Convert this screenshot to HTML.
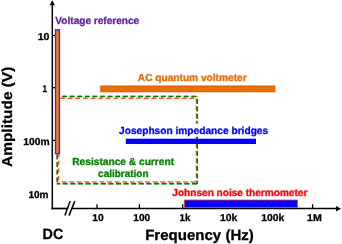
<!DOCTYPE html>
<html><head><meta charset="utf-8">
<style>
html,body{margin:0;padding:0;background:#fff;}
body{width:342px;height:244px;overflow:hidden;}
svg{display:block;}
text{font-family:"Liberation Sans",Arial,sans-serif;font-weight:bold;text-rendering:geometricPrecision;}
</style></head>
<body>
<svg width="342" height="244" viewBox="0 0 342 244">
<rect x="0" y="0" width="342" height="244" fill="#fff"/>
<rect x="60.30" y="97.60" width="4.50" height="1.4" fill="#FF5500"/>
<rect x="67.90" y="97.60" width="4.50" height="1.4" fill="#FF5500"/>
<rect x="75.50" y="97.60" width="4.50" height="1.4" fill="#FF5500"/>
<rect x="83.10" y="97.60" width="4.50" height="1.4" fill="#FF5500"/>
<rect x="90.70" y="97.60" width="4.50" height="1.4" fill="#FF5500"/>
<rect x="98.30" y="97.60" width="4.50" height="1.4" fill="#FF5500"/>
<rect x="105.90" y="97.60" width="4.50" height="1.4" fill="#FF5500"/>
<rect x="113.50" y="97.60" width="4.50" height="1.4" fill="#FF5500"/>
<rect x="121.10" y="97.60" width="4.50" height="1.4" fill="#FF5500"/>
<rect x="128.70" y="97.60" width="4.50" height="1.4" fill="#FF5500"/>
<rect x="136.30" y="97.60" width="4.50" height="1.4" fill="#FF5500"/>
<rect x="143.90" y="97.60" width="4.50" height="1.4" fill="#FF5500"/>
<rect x="151.50" y="97.60" width="4.50" height="1.4" fill="#FF5500"/>
<rect x="159.10" y="97.60" width="4.50" height="1.4" fill="#FF5500"/>
<rect x="166.70" y="97.60" width="4.50" height="1.4" fill="#FF5500"/>
<rect x="174.30" y="97.60" width="4.50" height="1.4" fill="#FF5500"/>
<rect x="181.90" y="97.60" width="4.50" height="1.4" fill="#FF5500"/>
<rect x="189.50" y="97.60" width="4.50" height="1.4" fill="#FF5500"/>
<rect x="195.70" y="98.20" width="1.0" height="4.40" fill="#FF5500"/>
<rect x="195.70" y="105.65" width="1.0" height="4.40" fill="#FF5500"/>
<rect x="195.70" y="113.10" width="1.0" height="4.40" fill="#FF5500"/>
<rect x="195.70" y="120.55" width="1.0" height="4.40" fill="#FF5500"/>
<rect x="195.70" y="128.00" width="1.0" height="4.40" fill="#FF5500"/>
<rect x="195.70" y="135.45" width="1.0" height="4.40" fill="#FF5500"/>
<rect x="195.70" y="142.90" width="1.0" height="4.40" fill="#FF5500"/>
<rect x="195.70" y="150.35" width="1.0" height="4.40" fill="#FF5500"/>
<rect x="195.70" y="157.80" width="1.0" height="4.40" fill="#FF5500"/>
<rect x="195.70" y="165.25" width="1.0" height="4.40" fill="#FF5500"/>
<rect x="195.70" y="172.70" width="1.0" height="4.40" fill="#FF5500"/>
<rect x="195.70" y="180.15" width="1.0" height="2.05" fill="#FF5500"/>
<rect x="58.10" y="181.30" width="0.50" height="1.3" fill="#FF5500"/>
<rect x="61.50" y="181.30" width="4.70" height="1.3" fill="#FF5500"/>
<rect x="69.10" y="181.30" width="4.70" height="1.3" fill="#FF5500"/>
<rect x="76.70" y="181.30" width="4.70" height="1.3" fill="#FF5500"/>
<rect x="84.30" y="181.30" width="4.70" height="1.3" fill="#FF5500"/>
<rect x="91.90" y="181.30" width="4.70" height="1.3" fill="#FF5500"/>
<rect x="99.50" y="181.30" width="4.70" height="1.3" fill="#FF5500"/>
<rect x="107.10" y="181.30" width="4.70" height="1.3" fill="#FF5500"/>
<rect x="114.70" y="181.30" width="4.70" height="1.3" fill="#FF5500"/>
<rect x="122.30" y="181.30" width="4.70" height="1.3" fill="#FF5500"/>
<rect x="129.90" y="181.30" width="4.70" height="1.3" fill="#FF5500"/>
<rect x="137.50" y="181.30" width="4.70" height="1.3" fill="#FF5500"/>
<rect x="145.10" y="181.30" width="4.70" height="1.3" fill="#FF5500"/>
<rect x="152.70" y="181.30" width="4.70" height="1.3" fill="#FF5500"/>
<rect x="160.30" y="181.30" width="4.70" height="1.3" fill="#FF5500"/>
<rect x="167.90" y="181.30" width="4.70" height="1.3" fill="#FF5500"/>
<rect x="175.50" y="181.30" width="4.70" height="1.3" fill="#FF5500"/>
<rect x="183.10" y="181.30" width="4.70" height="1.3" fill="#FF5500"/>
<rect x="190.70" y="181.30" width="4.70" height="1.3" fill="#FF5500"/>
<rect x="58.10" y="99.80" width="1.2" height="4.60" fill="#FF5500"/>
<rect x="58.10" y="107.40" width="1.2" height="4.60" fill="#FF5500"/>
<rect x="58.10" y="115.00" width="1.2" height="4.60" fill="#FF5500"/>
<rect x="58.10" y="122.60" width="1.2" height="4.60" fill="#FF5500"/>
<rect x="58.10" y="130.20" width="1.2" height="4.60" fill="#FF5500"/>
<rect x="58.10" y="137.80" width="1.2" height="4.60" fill="#FF5500"/>
<rect x="58.10" y="145.40" width="1.2" height="4.60" fill="#FF5500"/>
<rect x="58.10" y="153.00" width="1.2" height="4.60" fill="#FF5500"/>
<rect x="58.10" y="160.60" width="1.2" height="4.60" fill="#FF5500"/>
<rect x="58.10" y="168.20" width="1.2" height="4.60" fill="#FF5500"/>
<rect x="58.10" y="175.80" width="1.2" height="4.60" fill="#FF5500"/>
<rect x="56.70" y="95.60" width="2.70" height="1.7" fill="#007A10"/>
<rect x="62.00" y="95.60" width="5.00" height="1.7" fill="#007A10"/>
<rect x="69.60" y="95.60" width="5.00" height="1.7" fill="#007A10"/>
<rect x="77.20" y="95.60" width="5.00" height="1.7" fill="#007A10"/>
<rect x="84.80" y="95.60" width="5.00" height="1.7" fill="#007A10"/>
<rect x="92.40" y="95.60" width="5.00" height="1.7" fill="#007A10"/>
<rect x="100.00" y="95.60" width="5.00" height="1.7" fill="#007A10"/>
<rect x="107.60" y="95.60" width="5.00" height="1.7" fill="#007A10"/>
<rect x="115.20" y="95.60" width="5.00" height="1.7" fill="#007A10"/>
<rect x="122.80" y="95.60" width="5.00" height="1.7" fill="#007A10"/>
<rect x="130.40" y="95.60" width="5.00" height="1.7" fill="#007A10"/>
<rect x="138.00" y="95.60" width="5.00" height="1.7" fill="#007A10"/>
<rect x="145.60" y="95.60" width="5.00" height="1.7" fill="#007A10"/>
<rect x="153.20" y="95.60" width="5.00" height="1.7" fill="#007A10"/>
<rect x="160.80" y="95.60" width="5.00" height="1.7" fill="#007A10"/>
<rect x="168.40" y="95.60" width="5.00" height="1.7" fill="#007A10"/>
<rect x="176.00" y="95.60" width="5.00" height="1.7" fill="#007A10"/>
<rect x="183.60" y="95.60" width="5.00" height="1.7" fill="#007A10"/>
<rect x="191.20" y="95.60" width="5.00" height="1.7" fill="#007A10"/>
<rect x="196.35" y="96.00" width="1.7" height="0.55" fill="#007A10"/>
<rect x="196.35" y="99.00" width="1.7" height="5.00" fill="#007A10"/>
<rect x="196.35" y="106.45" width="1.7" height="5.00" fill="#007A10"/>
<rect x="196.35" y="113.90" width="1.7" height="5.00" fill="#007A10"/>
<rect x="196.35" y="121.35" width="1.7" height="5.00" fill="#007A10"/>
<rect x="196.35" y="128.80" width="1.7" height="5.00" fill="#007A10"/>
<rect x="196.35" y="136.25" width="1.7" height="5.00" fill="#007A10"/>
<rect x="196.35" y="143.70" width="1.7" height="5.00" fill="#007A10"/>
<rect x="196.35" y="151.15" width="1.7" height="5.00" fill="#007A10"/>
<rect x="196.35" y="158.60" width="1.7" height="5.00" fill="#007A10"/>
<rect x="196.35" y="166.05" width="1.7" height="5.00" fill="#007A10"/>
<rect x="196.35" y="173.50" width="1.7" height="5.00" fill="#007A10"/>
<rect x="196.35" y="180.95" width="1.7" height="2.95" fill="#007A10"/>
<rect x="56.70" y="182.80" width="3.60" height="1.8" fill="#007A10"/>
<rect x="62.70" y="182.80" width="5.20" height="1.8" fill="#007A10"/>
<rect x="70.30" y="182.80" width="5.20" height="1.8" fill="#007A10"/>
<rect x="77.90" y="182.80" width="5.20" height="1.8" fill="#007A10"/>
<rect x="85.50" y="182.80" width="5.20" height="1.8" fill="#007A10"/>
<rect x="93.10" y="182.80" width="5.20" height="1.8" fill="#007A10"/>
<rect x="100.70" y="182.80" width="5.20" height="1.8" fill="#007A10"/>
<rect x="108.30" y="182.80" width="5.20" height="1.8" fill="#007A10"/>
<rect x="115.90" y="182.80" width="5.20" height="1.8" fill="#007A10"/>
<rect x="123.50" y="182.80" width="5.20" height="1.8" fill="#007A10"/>
<rect x="131.10" y="182.80" width="5.20" height="1.8" fill="#007A10"/>
<rect x="138.70" y="182.80" width="5.20" height="1.8" fill="#007A10"/>
<rect x="146.30" y="182.80" width="5.20" height="1.8" fill="#007A10"/>
<rect x="153.90" y="182.80" width="5.20" height="1.8" fill="#007A10"/>
<rect x="161.50" y="182.80" width="5.20" height="1.8" fill="#007A10"/>
<rect x="169.10" y="182.80" width="5.20" height="1.8" fill="#007A10"/>
<rect x="176.70" y="182.80" width="5.20" height="1.8" fill="#007A10"/>
<rect x="184.30" y="182.80" width="5.20" height="1.8" fill="#007A10"/>
<rect x="191.90" y="182.80" width="5.20" height="1.8" fill="#007A10"/>
<rect x="56.35" y="96.00" width="1.6" height="2.60" fill="#007A10"/>
<rect x="56.35" y="101.20" width="1.6" height="5.00" fill="#007A10"/>
<rect x="56.35" y="108.80" width="1.6" height="5.00" fill="#007A10"/>
<rect x="56.35" y="116.40" width="1.6" height="5.00" fill="#007A10"/>
<rect x="56.35" y="124.00" width="1.6" height="5.00" fill="#007A10"/>
<rect x="56.35" y="131.60" width="1.6" height="5.00" fill="#007A10"/>
<rect x="56.35" y="139.20" width="1.6" height="5.00" fill="#007A10"/>
<rect x="56.35" y="146.80" width="1.6" height="5.00" fill="#007A10"/>
<rect x="56.35" y="154.40" width="1.6" height="5.00" fill="#007A10"/>
<rect x="56.35" y="162.00" width="1.6" height="5.00" fill="#007A10"/>
<rect x="56.35" y="169.60" width="1.6" height="5.00" fill="#007A10"/>
<rect x="56.35" y="177.20" width="1.6" height="5.00" fill="#007A10"/>
<rect x="117" y="123.6" width="153" height="13.2" fill="#fff"/>
<g stroke="#000" fill="none">
<line x1="52.3" y1="4" x2="52.3" y2="209.3" stroke-width="1.5"/>
<line x1="51.55" y1="208.5" x2="67.5" y2="208.5" stroke-width="1.7"/>
<line x1="71.8" y1="208.5" x2="337" y2="208.5" stroke-width="1.7"/>
<line x1="64.9" y1="215.6" x2="70.2" y2="201.1" stroke-width="1.5"/>
<line x1="69" y1="215.6" x2="74.75" y2="201.1" stroke-width="1.5"/>
<g stroke-width="1.3">
<line x1="52.3" y1="35.5" x2="55" y2="35.5"/>
<line x1="52.3" y1="87.7" x2="55" y2="87.7"/>
<line x1="52.3" y1="140.4" x2="55" y2="140.4"/>
</g>
<g stroke-width="1.3">
<line x1="97" y1="204.2" x2="97" y2="208.5"/>
<line x1="139.4" y1="204.2" x2="139.4" y2="208.5"/>
<line x1="182.7" y1="204.2" x2="182.7" y2="208.5"/>
<line x1="226.2" y1="204.2" x2="226.2" y2="208.5"/>
<line x1="269.3" y1="204.2" x2="269.3" y2="208.5"/>
<line x1="312.6" y1="204.2" x2="312.6" y2="208.5"/>
</g>
</g>
<rect x="55.5" y="29.8" width="3.9" height="123.9" fill="#FF8000" stroke="#6020C8" stroke-width="1.4"/>
<rect x="100.8" y="86" width="174" height="5.8" fill="#E8700A" stroke="#DD5800" stroke-width="1"/>
<rect x="125.8" y="138.7" width="130.2" height="5.3" fill="#0000FF"/>
<rect x="184.3" y="200" width="113.2" height="7.6" fill="#0000FF" stroke="#FF3C28" stroke-width="0.8"/>
<polygon points="52.3,0.3 49.7,5.2 54.9,5.2" fill="#000"/>
<polygon points="341,208.7 336,205.9 336,211.5" fill="#000"/>
<text x="37.71" y="40.00" font-size="10.0" fill="#000" stroke="#000" stroke-width="0.3" textLength="11.70" lengthAdjust="spacingAndGlyphs">10</text>
<text x="42.60" y="92.00" font-size="10.0" fill="#000" stroke="#000" stroke-width="0.3" textLength="4.54" lengthAdjust="spacingAndGlyphs">1</text>
<text x="23.35" y="145.00" font-size="10.0" fill="#000" stroke="#000" stroke-width="0.3" textLength="26.37" lengthAdjust="spacingAndGlyphs">100m</text>
<text x="28.44" y="198.00" font-size="10.0" fill="#000" stroke="#000" stroke-width="0.3" textLength="20.07" lengthAdjust="spacingAndGlyphs">10m</text>
<text x="92.21" y="221.00" font-size="10.0" fill="#000" stroke="#000" stroke-width="0.3" textLength="11.36" lengthAdjust="spacingAndGlyphs">10</text>
<text x="133.35" y="221.00" font-size="10.0" fill="#000" stroke="#000" stroke-width="0.3" textLength="16.79" lengthAdjust="spacingAndGlyphs">100</text>
<text x="179.58" y="221.00" font-size="10.0" fill="#000" stroke="#000" stroke-width="0.3" textLength="10.81" lengthAdjust="spacingAndGlyphs">1k</text>
<text x="220.04" y="221.00" font-size="10.0" fill="#000" stroke="#000" stroke-width="0.3" textLength="17.28" lengthAdjust="spacingAndGlyphs">10k</text>
<text x="261.18" y="221.00" font-size="10.0" fill="#000" stroke="#000" stroke-width="0.3" textLength="23.03" lengthAdjust="spacingAndGlyphs">100k</text>
<text x="307.00" y="221.00" font-size="10.0" fill="#000" stroke="#000" stroke-width="0.3" textLength="14.72" lengthAdjust="spacingAndGlyphs">1M</text>
<text x="42.57" y="239.00" font-size="14.8" fill="#000" stroke="#000" stroke-width="0.3" textLength="20.76" lengthAdjust="spacingAndGlyphs">DC</text>
<text x="145.15" y="240.00" font-size="14.8" fill="#000" stroke="#000" stroke-width="0.3" textLength="108.71" lengthAdjust="spacingAndGlyphs">Frequency (Hz)</text>
<text transform="translate(11.9,166.9) rotate(-90)" font-size="14.3" fill="#000" stroke="#000" stroke-width="0.3" textLength="100.20" lengthAdjust="spacingAndGlyphs">Amplitude (V)</text>
<text x="55.35" y="24.00" font-size="10.2" fill="#6420A4" stroke="#6420A4" stroke-width="0.3" textLength="83.88" lengthAdjust="spacingAndGlyphs">Voltage reference</text>
<text x="137.83" y="81.00" font-size="10.2" fill="#E46C0A" stroke="#E46C0A" stroke-width="0.3" textLength="108.81" lengthAdjust="spacingAndGlyphs">AC quantum voltmeter</text>
<text x="119.04" y="134.00" font-size="10.2" fill="#0000FF" stroke="#0000FF" stroke-width="0.3" textLength="149.13" lengthAdjust="spacingAndGlyphs">Josephson impedance bridges</text>
<text x="72.28" y="165.00" font-size="10.2" fill="#008000" stroke="#008000" stroke-width="0.3" textLength="101.79" lengthAdjust="spacingAndGlyphs">Resistance &amp; current</text>
<text x="98.11" y="177.00" font-size="10.2" fill="#008000" stroke="#008000" stroke-width="0.3" textLength="50.35" lengthAdjust="spacingAndGlyphs">calibration</text>
<text x="172.35" y="196.00" font-size="10.2" fill="#FF0000" stroke="#FF0000" stroke-width="0.3" textLength="135.02" lengthAdjust="spacingAndGlyphs">Johnsen noise thermometer</text>
</svg>
</body></html>
